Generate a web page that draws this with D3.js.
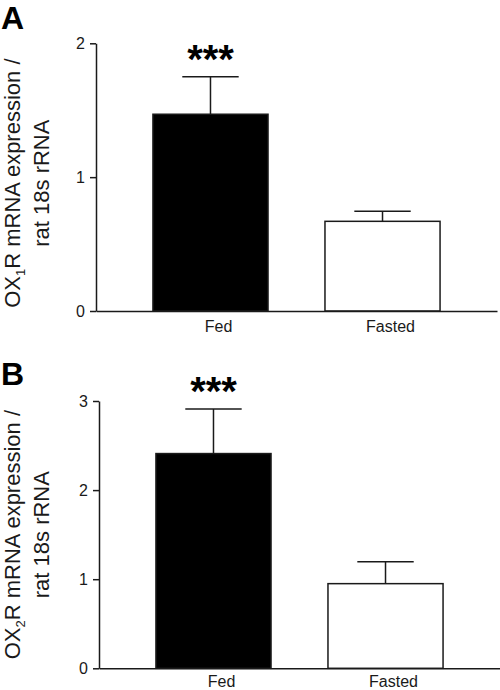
<!DOCTYPE html>
<html>
<head>
<meta charset="utf-8">
<script src="https://cdn.jsdelivr.net/npm/d3@7"></script>
<style>
  body { margin: 0; background: white; }
  text { font-family: "Liberation Sans", Arial, sans-serif; }
</style>
</head>
<body>
<div id="container"></div>
<script>
let w = 500;
let h = 690;

// data
let groups = ["Fed", "Fasted"];
let ox1Mean = [1.47, 0.67];
let ox1Sem = [0.28, 0.075];
let ox1Ticks = [0, 1, 2];
let ox2Mean = [2.41, 0.95];
let ox2Sem = [0.50, 0.245];
let ox2Ticks = [0, 1, 2, 3];
let barFills = ["black", "white"];
let stars = ["***", ""];

let viz = d3.select("#container").append("svg")
    .attr("width", w)
    .attr("height", h)
    .style("background-color", "white")
;

function drawPanel(opt){
  let g = viz.append("g").attr("class", "panel");

  let yScale = d3.scaleLinear()
      .domain([0, d3.max(opt.ticks)])
      .range([opt.bottom, opt.top]);
  let xScale = d3.scaleBand()
      .domain(groups)
      .range([opt.left, opt.right])
      .paddingInner(0.331)
      .paddingOuter(0.331);

  // y axis
  let yAxis = d3.axisLeft(yScale).tickValues(opt.ticks).tickFormat(d3.format("d"))
      .tickSize(6).tickSizeOuter(0).tickPadding(5);
  let yAxisGroup = g.append("g")
      .attr("transform", "translate(" + opt.left + ",0)")
      .call(yAxis);
  yAxisGroup.selectAll("path, line").attr("stroke", "#1a1a1a").attr("stroke-width", 1.5);
  yAxisGroup.selectAll("text")
      .attr("fill", "#1a1a1a")
      .style("font-size", "16px")
      .style("font-family", "'Liberation Sans', Arial, sans-serif");

  let data = groups.map((d, i) => ({group: d, mean: opt.mean[i], sem: opt.sem[i], fill: barFills[i], star: stars[i]}));

  // bars
  g.selectAll(".bar").data(data).enter()
    .append("rect")
      .attr("class", "bar")
      .attr("x", d => xScale(d.group))
      .attr("y", d => yScale(d.mean))
      .attr("width", xScale.bandwidth())
      .attr("height", d => yScale(0) - yScale(d.mean))
      .attr("fill", d => d.fill)
      .attr("stroke", "#1a1a1a")
      .attr("stroke-width", 1.5)
  ;

  // error bars (upper only)
  let capHalf = xScale.bandwidth() * 0.245;
  let err = g.selectAll(".err").data(data).enter().append("g").attr("class", "err")
      .attr("stroke", "#1a1a1a").attr("stroke-width", 1.5);
  err.append("line")
      .attr("x1", d => xScale(d.group) + xScale.bandwidth()/2)
      .attr("x2", d => xScale(d.group) + xScale.bandwidth()/2)
      .attr("y1", d => yScale(d.mean))
      .attr("y2", d => yScale(d.mean + d.sem));
  err.append("line")
      .attr("x1", d => xScale(d.group) + xScale.bandwidth()/2 - capHalf)
      .attr("x2", d => xScale(d.group) + xScale.bandwidth()/2 + capHalf)
      .attr("y1", d => yScale(d.mean + d.sem))
      .attr("y2", d => yScale(d.mean + d.sem));

  // significance stars
  g.selectAll(".star").data(data).enter()
    .append("text")
      .attr("x", d => xScale(d.group) + xScale.bandwidth()/2)
      .attr("y", d => yScale(d.mean + d.sem) - 4)
      .attr("text-anchor", "middle")
      .style("font-size", "40px")
      .style("font-weight", "bold")
      .text(d => d.star);

  // x axis
  let xAxis = d3.axisBottom(xScale).tickSize(0).tickSizeOuter(0).tickPadding(opt.labelPad);
  let xAxisGroup = g.append("g")
      .attr("transform", "translate(0," + opt.bottom + ")")
      .call(xAxis);
  xAxisGroup.selectAll("path").attr("stroke", "#1a1a1a").attr("stroke-width", 1.5);
  xAxisGroup.selectAll("text")
      .attr("fill", "#1a1a1a")
      .attr("dx", 8)
      .style("font-size", "16px")
      .style("font-family", "'Liberation Sans', Arial, sans-serif");

  // y axis title, two rotated lines
  let cy = (opt.top + opt.bottom)/2 + opt.titleShift;
  let t1 = g.append("text")
      .attr("transform", "translate(20," + cy + ") rotate(-90)")
      .attr("text-anchor", "middle")
      .attr("fill", "#1a1a1a")
      .style("font-size", "22px");
  t1.append("tspan").text("OX");
  t1.append("tspan").attr("dy", 5).style("font-size", "13px").text(opt.sub);
  t1.append("tspan").attr("dy", -5).text("R mRNA expression /");
  g.append("text")
      .attr("transform", "translate(49," + cy + ") rotate(-90)")
      .attr("text-anchor", "middle")
      .attr("fill", "#1a1a1a")
      .style("font-size", "22px")
      .text("rat 18s rRNA");

  // panel letter
  g.append("text")
      .attr("x", 1)
      .attr("y", opt.letterY)
      .attr("fill", "black")
      .style("font-size", "32px")
      .style("font-weight", "bold")
      .text(opt.letter);
}

drawPanel({letter: "A", letterY: 29, sub: "1", mean: ox1Mean, sem: ox1Sem, ticks: ox1Ticks,
  top: 43.3, bottom: 311, left: 96, right: 497, titleShift: 6, labelPad: 10});
drawPanel({letter: "B", letterY: 385, sub: "2", mean: ox2Mean, sem: ox2Sem, ticks: ox2Ticks,
  top: 401, bottom: 668.3, left: 99, right: 500, titleShift: 0, labelPad: 7});
</script>
</body>
</html>
